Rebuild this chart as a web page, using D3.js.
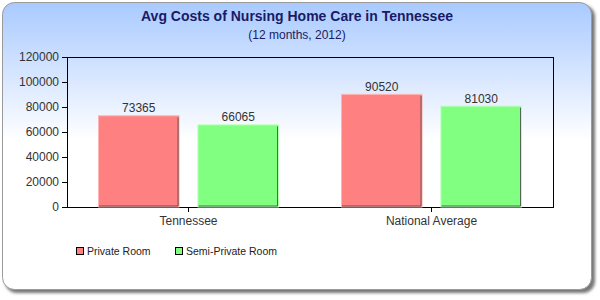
<!DOCTYPE html>
<html>
<head>
<meta charset="utf-8">
<script src="https://cdn.jsdelivr.net/npm/d3@7"></script>
<style>
  body { margin: 0; background: #fff; }
  text { font-family: "Liberation Sans", Arial, sans-serif; }
</style>
</head>
<body>
<div id="chart"></div>
<script>
// chart data
var categories = ["Tennessee", "National Average"];
var seriesNames = ["Private Room", "Semi-Private Room"];
var privateRoom = [73365, 90520];
var semiPrivateRoom = [66065, 81030];
var yTicks = [0, 20000, 40000, 60000, 80000, 100000, 120000];

var colors = ["#ff8080", "#80ff80"];
var lightEdges = ["#ffb4b4", "#b4ffb4"];

var width = 600, height = 300;
var margin = {top: 57, right: 47, bottom: 93, left: 67};
var plotW = width - margin.left - margin.right;
var plotH = height - margin.top - margin.bottom;

var svg = d3.select('#chart').append('svg')
    .attr('width', width)
    .attr('height', height);

var defs = svg.append('defs');
var bg = defs.append('linearGradient')
    .attr('id', 'bg')
    .attr('x1', 0).attr('y1', 0).attr('x2', 0).attr('y2', 1);
bg.append('stop').attr('offset', '0%').attr('stop-color', '#a9caff');
bg.append('stop').attr('offset', '48%').attr('stop-color', '#ffffff');
bg.append('stop').attr('offset', '100%').attr('stop-color', '#ffffff');

var blur = defs.append('filter').attr('id', 'shadow')
    .attr('x', '-5%').attr('y', '-5%').attr('width', '115%').attr('height', '115%');
blur.append('feGaussianBlur').attr('stdDeviation', 1.5);

// card with shadow
svg.append('rect')
    .attr('x', 5).attr('y', 5)
    .attr('width', 590).attr('height', 288)
    .attr('rx', 12)
    .attr('fill', '#777')
    .attr('filter', 'url(#shadow)');
svg.append('rect')
    .attr('x', 2.5).attr('y', 2.5)
    .attr('width', 589).attr('height', 287)
    .attr('rx', 12)
    .attr('fill', 'url(#bg)')
    .attr('stroke', '#9a9a9a')
    .attr('stroke-width', 1);

// titles
svg.append('text')
    .attr('x', 297).attr('y', 21)
    .attr('text-anchor', 'middle')
    .attr('font-size', 14).attr('font-weight', 'bold')
    .attr('fill', '#1a1a66')
    .text('Avg Costs of Nursing Home Care in Tennessee');
svg.append('text')
    .attr('x', 297).attr('y', 39)
    .attr('text-anchor', 'middle')
    .attr('font-size', 12)
    .attr('fill', '#1a1a66')
    .text('(12 months, 2012)');

var g = svg.append('g')
    .attr('transform', 'translate(' + margin.left + ',' + margin.top + ')');

var x0 = d3.scaleBand().domain(categories).range([0, plotW]).padding(0);
var x1 = d3.scaleBand().domain(seriesNames).range([31, x0.bandwidth() - 31]).paddingInner(0.18);
var y = d3.scaleLinear().domain([0, 120000]).range([plotH, 0]);

// plot frame
g.append('rect')
    .attr('x', 0).attr('y', 0)
    .attr('width', plotW).attr('height', plotH)
    .attr('fill', 'none')
    .attr('stroke', '#000')
    .attr('stroke-width', 1)
    .attr('shape-rendering', 'crispEdges');

var rows = categories.map(function(c, i) {
    return [privateRoom[i], semiPrivateRoom[i]];
});

var groups = g.selectAll('.grp')
    .data(rows)
    .join('g')
    .attr('class', 'grp')
    .attr('transform', function(d, i) { return 'translate(' + x0(categories[i]) + ',0)'; });

var bars = groups.selectAll('.bar')
    .data(function(d) { return d; })
    .join('g')
    .attr('class', 'bar');

bars.append('rect')
    .attr('x', function(d, j) { return x1(seriesNames[j]) + 0.5; })
    .attr('y', function(d) { return y(d) + 0.5; })
    .attr('width', x1.bandwidth() - 1)
    .attr('height', function(d) { return plotH - y(d) - 0.5; })
    .attr('fill', function(d, j) { return colors[j]; })
    .attr('stroke', function(d, j) { return lightEdges[j]; })
    .attr('stroke-width', 1);

// dark right and bottom edge
bars.append('path')
    .attr('d', function(d, j) {
        var xr = x1(seriesNames[j]) + x1.bandwidth() - 1.5;
        var xl = x1(seriesNames[j]) + 1;
        return 'M' + xr + ',' + (y(d) + 2) + 'V' + (plotH - 1) + 'H' + xl;
    })
    .attr('fill', 'none')
    .attr('stroke', '#444')
    .attr('stroke-opacity', 0.8)
    .attr('stroke-width', 1);

bars.append('text')
    .attr('x', function(d, j) { return x1(seriesNames[j]) + x1.bandwidth() / 2; })
    .attr('y', function(d) { return y(d) - 3; })
    .attr('text-anchor', 'middle')
    .attr('font-size', 12)
    .attr('fill', '#333')
    .text(function(d) { return d; });

// axes
var yAxis = g.append('g')
    .call(d3.axisLeft(y).tickValues(yTicks).tickSize(5).tickSizeOuter(0).tickFormat(d3.format('d')));
var xAxis = g.append('g')
    .attr('transform', 'translate(0,' + plotH + ')')
    .call(d3.axisBottom(x0).tickSize(5).tickSizeOuter(0).tickPadding(4));

[yAxis, xAxis].forEach(function(a) {
    a.select('.domain').remove();
    a.selectAll('line').attr('stroke', '#000');
    a.selectAll('text')
        .attr('font-size', 12)
        .attr('font-family', '"Liberation Sans", Arial, sans-serif')
        .attr('fill', '#333');
});

// legend
var legend = svg.append('g').attr('transform', 'translate(76,247)');
var items = legend.selectAll('g')
    .data(seriesNames)
    .join('g')
    .attr('transform', function(d, i) { return 'translate(' + (i * 99) + ',0)'; });
items.append('rect')
    .attr('x', 0.5).attr('y', 0.5)
    .attr('width', 7).attr('height', 7)
    .attr('fill', function(d, i) { return colors[i]; })
    .attr('stroke', '#000');
items.append('text')
    .attr('x', 11).attr('y', 8)
    .attr('font-size', 10.5)
    .attr('fill', '#222')
    .text(function(d) { return d; });
</script>
</body>
</html>
